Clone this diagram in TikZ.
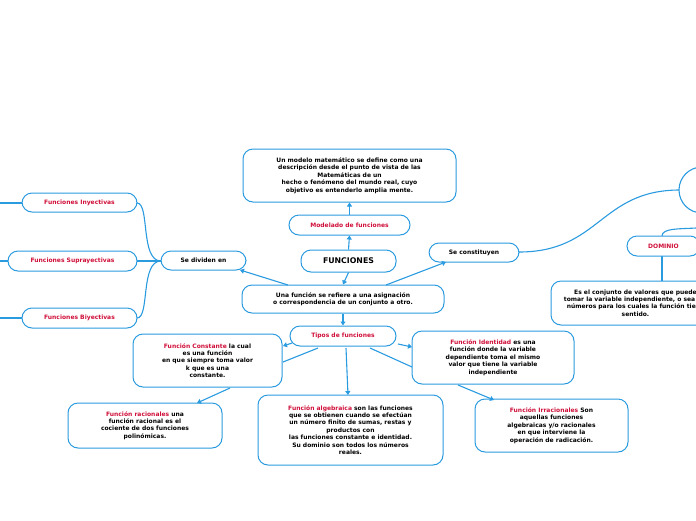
\documentclass[tikz,border=0pt]{standalone}
\usepackage{fontspec}
\setmainfont{DejaVu Sans}
\usetikzlibrary{arrows.meta}
\definecolor{lb}{HTML}{2B9BE0}
\definecolor{rd}{HTML}{D0103A}
\begin{document}
\begin{tikzpicture}[x=1pt,y=-1pt,
 bx/.style={draw=lb,line width=1pt,rounded corners=10pt,fill=white,align=center,font=\fontsize{6}{7.4}\selectfont\bfseries,inner sep=1pt},
 ln/.style={draw=lb,line width=1.1pt},
 ar/.style={ln,-{Triangle[width=5pt,length=4pt]}}]
\useasboundingbox (0,0) rectangle (696,520);
\clip (0,0) rectangle (696,520);
\def\bxat#1#2#3#4#5#6{\node[bx,minimum width=#4-#2,minimum height=#5-#3] (#1) at ({(#2+#4)/2},{(#3+#5)/2}) {#6};}
% connectors under boxes
\draw[ln] (680,190) coordinate (cc) .. controls (600,190) and (600,252) .. (519,252);
\draw[ln] (662,236) .. controls (662,228) and (680,229) .. (696,228);
\draw[ln] (662,256) -- (662,281);
\draw[ln] (161,261) .. controls (140,261) and (150,203) .. (137,203);
\draw[ln] (161,261) -- (137,261);
\draw[ln] (161,261) .. controls (140,261) and (150,318) .. (137,318);
\draw[ln] (0,203) -- (22,203);
\draw[ln] (0,261) -- (8,261);
\draw[ln] (0,318) -- (22,318);
\bxat{modelo}{243}{149}{456}{202}{Un modelo matemático se define como una\\descripción desde el punto de vista de las\\Matemáticas de un\\hecho o fenómeno del mundo real, cuyo\\objetivo es entenderlo amplia mente.}
\bxat{modelado}{289}{215}{410}{235}{\color{rd}Modelado de funciones}
\bxat{fun}{301}{250}{396}{272}{\fontsize{7.8}{9}\selectfont FUNCIONES}
\bxat{una}{242}{285}{444}{313}{Una función se refiere a una asignación\\o correspondencia de un conjunto a otro.}
\bxat{tipos}{290}{326}{396}{346}{\color{rd}Tipos de funciones}
\bxat{const}{133}{334}{282}{387}{{\color{rd}Función Constante} la cual\\es una función\\en que siempre toma valor\\k que es una\\constante.}
\bxat{ident}{412}{331}{574}{384}{{\color{rd}Función Identidad} es una\\función donde la variable\\dependiente toma el mismo\\valor que tiene la variable\\independiente}
\bxat{racio}{68}{403}{222}{448}{{\color{rd}Función racionales} una\\función racional es el\\cociente de dos funciones\\polinómicas.}
\bxat{alge}{258}{395}{443}{465}{{\color{rd}Función algebraica} son las funciones\\que se obtienen cuando se efectúan\\un número finito de sumas, restas y\\productos con\\las funciones constante e identidad.\\Su dominio son todos los números\\reales.}
\bxat{irra}{475}{399}{628}{452}{{\color{rd}Función Irracionales} Son\\aquellas funciones\\algebraicas y/o racionales\\en que interviene la\\operación de radicación.}
\bxat{div}{161}{251}{246}{270}{Se dividen en}
\bxat{iny}{22}{193}{137}{212}{\color{rd}Funciones Inyectivas}
\bxat{sup}{8}{251}{137}{271}{\color{rd}Funciones Suprayectivas}
\bxat{biy}{22}{308}{137}{328}{\color{rd}Funciones Biyectivas}
\bxat{cons}{429}{243}{519}{262}{Se constituyen}
\bxat{dom}{627}{236}{700}{256}{\color{rd}DOMINIO}
\bxat{ddef}{551}{281}{720}{325}{Es el conjunto de valores que puede\\tomar la variable independiente, o sea los\\números para los cuales la función tiene\\sentido.}
\draw[ln,fill=white] (702,190) circle (23);
% arrows
\draw[ar] (fun.south) -- (una.north);
\draw[ar] (fun.north) -- (modelado.south);
\draw[ar] (modelado.north) -- (modelo.south);
\draw[ar] (288,285) -- (240,270);
\draw[ar] (386,285) -- (446,262);
\draw[ar] (una.south) -- (tipos.north);
\draw[ar] (346,348) -- (348,395);
\draw[ar] (292,343) -- (283,346);
\draw[ln] (318,348) -- (283,362);
\draw[ar] (398,344) -- (412,347);
\draw[ln] (370,348) -- (412,367);
\draw[ar] (230,388) -- (197,403);
\draw[ar] (458,385) -- (494,400);
\end{tikzpicture}
\end{document}
